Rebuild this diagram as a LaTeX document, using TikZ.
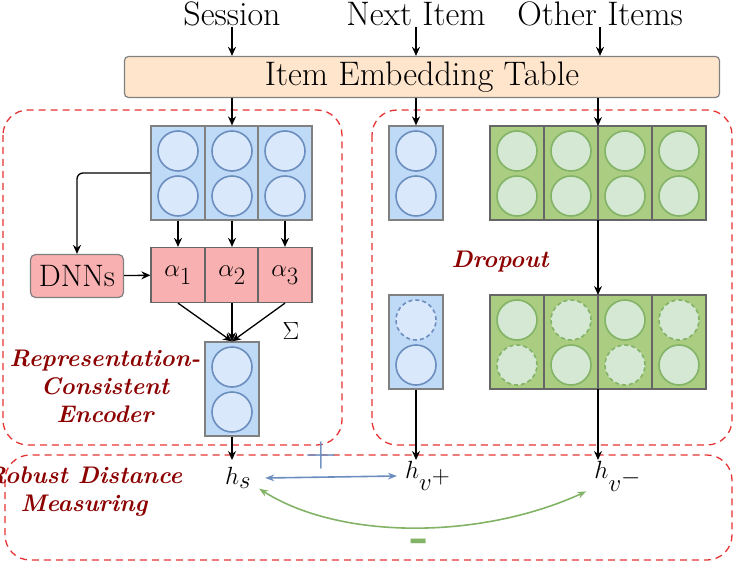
\documentclass[tikz,border=0pt]{standalone}
\usepackage{fontspec}
\usepackage{amsmath}
\usetikzlibrary{arrows.meta}
\definecolor{bluecell}{RGB}{190,218,246}
\definecolor{bluecirc}{RGB}{218,232,252}
\definecolor{blueline}{RGB}{108,142,191}
\definecolor{greencell}{RGB}{170,205,130}
\definecolor{greencirc}{RGB}{213,232,212}
\definecolor{greenline}{RGB}{130,179,102}
\definecolor{pinkcell}{RGB}{248,176,176}
\definecolor{tablefill}{RGB}{255,229,204}
\definecolor{darkred}{RGB}{140,0,0}
\definecolor{boxred}{RGB}{230,50,50}
\begin{document}
\begin{tikzpicture}[x=1pt,y=-1pt]
      \tikzstyle{label} = [font=\fontsize{34}{38}\selectfont, inner sep=1pt]
      \tikzstyle{table} = [rectangle, rounded corners=4pt, minimum width=595, minimum height=41, inner sep=0pt, fill=tablefill, draw=gray, line width=1.2pt, font=\fontsize{34}{38}\selectfont]
      \tikzstyle{region} = [draw=boxred, dashed, line width=1.3pt, rounded corners=25pt, dash pattern=on 7pt off 5pt]
      \tikzstyle{bcell} = [rectangle, minimum width=54, minimum height=94, fill=bluecell, draw=gray, line width=1.2pt]
      \tikzstyle{gcell} = [rectangle, minimum width=54, minimum height=94, fill=greencell, draw=black!60, line width=1.2pt]
      \tikzstyle{acell} = [rectangle, minimum width=54, minimum height=55, inner sep=0pt, fill=pinkcell, draw=black!60, line width=1.2pt, font=\fontsize{42}{46}\selectfont]
      \tikzstyle{bdot} = [circle, minimum size=40, fill=bluecirc, draw=blueline, line width=1.6pt]
      \tikzstyle{gdot} = [circle, minimum size=40, fill=greencirc, draw=greenline, line width=1.6pt]
      \tikzstyle{gone} = [dash pattern=on 4pt off 3pt]
      \tikzstyle{dnn} = [rectangle, rounded corners=5pt, minimum width=93, minimum height=43, inner sep=0pt, fill=pinkcell, draw=gray, line width=1.2pt, font=\fontsize{31}{34}\selectfont]
      \tikzstyle{note} = [text=darkred, font=\fontsize{24}{28}\selectfont\bfseries\itshape, align=center, inner sep=0pt]
      \tikzstyle{hvec} = [font=\fontsize{50}{54}\selectfont, inner sep=0pt]
      \tikzstyle{arrow} = [line width=1.3pt, -{Stealth[length=9pt,width=8pt]}]

      \useasboundingbox (0,0) rectangle (738,569);

      % dashed regions
      \draw [region] (3,110) rectangle (342,445);
      \draw [region] (372,110) rectangle (732,445);
      \draw [region] (5,455) rectangle (732,560);

      % inputs and table
      \node (sess) [label] at (232,14) {Session};
      \node (next) [label] at (416,14) {Next Item};
      \node (other) [label] at (600,14) {Other Items};
      \node (tab) [table] at (422,77) {Item Embedding Table};

      % session encoder
      \foreach \i/\x in {1/178,2/232,3/285} {
        \node (s\i) [bcell] at (\x,173) {};
        \node [bdot] at (\x,151) {};
        \node [bdot] at (\x,196) {};
        \node (a\i) [acell] at (\x,275) {$\alpha_\i$};
      }
      \node (dnn) [dnn] at (77,276) {DNNs};
      \node (enc) [bcell] at (232,389) {};
      \node [bdot] at (232,367) {};
      \node [bdot] at (232,412) {};
      \node [note] at (105,386) {Representation-\\Consistent\\Encoder};

      % next item
      \node (n1) [bcell] at (416,173) {};
      \node [bdot] at (416,151) {};
      \node [bdot] at (416,196) {};
      \node (n2) [bcell] at (416,342) {};
      \node [bdot, gone] at (416,320) {};
      \node [bdot] at (416,365) {};

      % other items
      \foreach \i/\x/\top/\bot in {1/517/solid/gone,2/571/gone/solid,3/625/solid/gone,4/679/gone/solid} {
        \node (o\i) [gcell] at (\x,173) {};
        \node [gdot] at (\x,151) {};
        \node [gdot] at (\x,196) {};
        \node (d\i) [gcell] at (\x,342) {};
        \node [gdot, \top] at (\x,320) {};
        \node [gdot, \bot] at (\x,365) {};
      }
      \coordinate (otop) at (598,126);
      \coordinate (obot) at (598,220);
      \coordinate (dtop) at (598,295);
      \coordinate (dbot) at (598,389);
      \node [note] at (500,262) {Dropout};

      % measuring
      \node (hs) [hvec] at (238,478) {$h_s$};
      \node (hp) [hvec] at (428,476) {$h_{v^+}$};
      \node (hm) [hvec] at (618,476) {$h_{v^-}$};
      \node [note] at (84,492) {Robust Distance\\Measuring};
      \node (plus) [text=blueline, font=\fontsize{44}{44}\selectfont] at (321,456) {+};
      \node (minus) [text=greenline, font=\fontsize{50}{50}\bfseries\selectfont] at (420,546) {-};

      % arrows
      \draw [arrow] (sess) -- (sess |- tab.north);
      \draw [arrow] (next) -- (next |- tab.north);
      \draw [arrow] (other) -- (other |- tab.north);
      \draw [arrow] (tab.south -| s2) -- (s2.north);
      \draw [arrow] (tab.south -| n1) -- (n1.north);
      \draw [arrow] (tab.south -| otop) -- (otop);
      \draw [arrow, rounded corners=6pt] (s1.west) -- (dnn.north |- s1.west) -- (dnn.north);
      \draw [arrow] (dnn) -- (a1);
      \foreach \i in {1,2,3} {
        \draw [arrow] (s\i) -- (a\i);
        \draw [arrow] (a\i.south) -- (enc.north);
      }
      \node at (291,331) {\fontsize{38}{38}\selectfont$\Sigma$};
      \draw [arrow] (enc.south) -- (232,460);
      \draw [arrow] (n2) -- (416,460);
      \draw [arrow] (obot) -- (dtop);
      \draw [arrow] (dbot) -- (598,460);
      \draw [line width=1.6pt, draw=blueline, {Stealth[length=9pt]}-{Stealth[length=9pt]}] ([xshift=14]hs.east) -- ([xshift=-8]hp.west);
      \draw [line width=1.6pt, draw=greenline, {Stealth[length=9pt]}-{Stealth[length=9pt]}] ([xshift=8]hs.south east) .. controls (340,540) and (480,540) .. ([xshift=-8]hm.south west);
\end{tikzpicture}
\end{document}
